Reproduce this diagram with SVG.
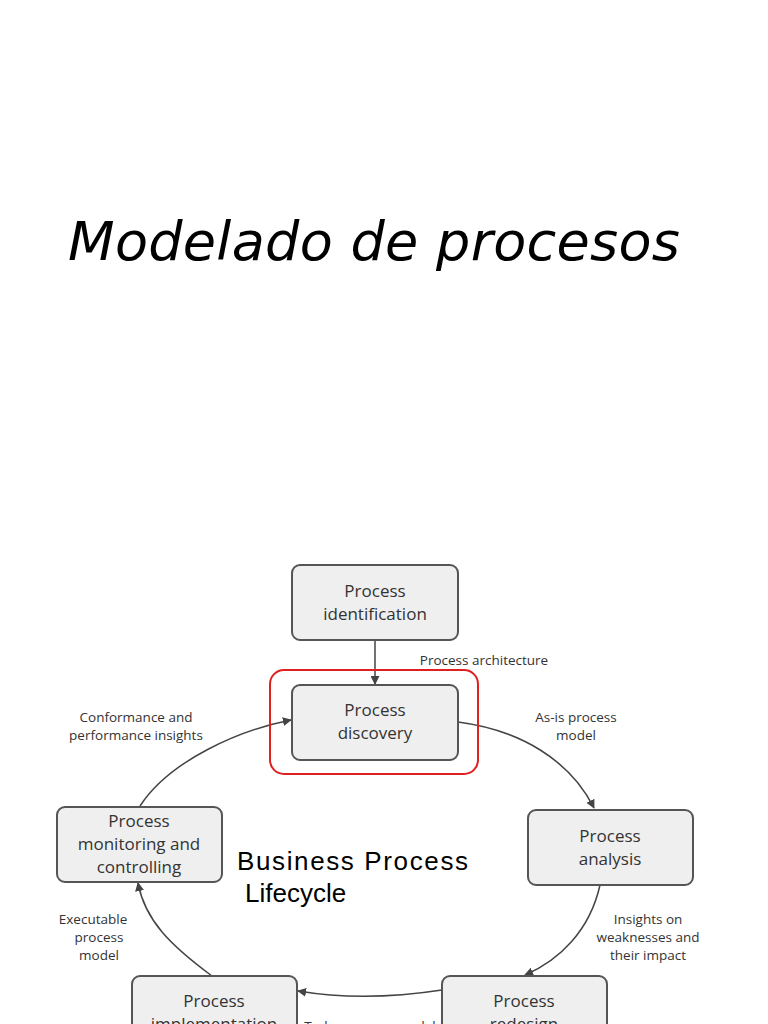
<svg xmlns="http://www.w3.org/2000/svg" width="768" height="1024" viewBox="0 0 768 1024">
<style>
.box{fill:#efefef;stroke:#555;stroke-width:2}
.t{font-family:"Open Sans",sans-serif;font-size:17px;fill:#333;text-anchor:middle}
.l{font-family:"Open Sans",sans-serif;font-size:13.5px;fill:#333;text-anchor:middle}
.c{fill:none;stroke:#444;stroke-width:1.5;marker-end:url(#a)}
</style>
<defs><marker id="a" viewBox="0 0 10 10" refX="9" refY="5" markerWidth="9" markerHeight="9" orient="auto" markerUnits="userSpaceOnUse"><path d="M0,0L10,5L0,10z" fill="#444"/></marker></defs>
<rect width="768" height="1024" fill="#fff"/>
<text x="68" y="260" font-family="DejaVu Sans,sans-serif" font-style="italic" font-size="54" textLength="612" fill="#000">Modelado de procesos</text>
<g id="connectors">
<path class="c" d="M375,640V684"/>
<path class="c" d="M458,722C520,730 570,760 594,808"/>
<path class="c" d="M600,885C590,930 560,960 525,975"/>
<path class="c" d="M442,990C390,998 340,998 298,991"/>
<path class="c" d="M212,976C170,945 145,920 138,883"/>
<path class="c" d="M140,806C170,760 240,730 291,720"/>
</g>
<rect x="270" y="670" width="208" height="104" rx="14" fill="none" stroke="#e02020" stroke-width="2"/>
<g id="identification"><rect class="box" x="292" y="565" width="166" height="75" rx="8"/><text class="t" x="375" y="597">Process</text><text class="t" x="375" y="620">identification</text></g>
<g id="discovery"><rect class="box" x="292" y="685" width="166" height="75" rx="8"/><text class="t" x="375" y="716">Process</text><text class="t" x="375" y="739">discovery</text></g>
<g id="analysis"><rect class="box" x="528" y="810" width="165" height="75" rx="8"/><text class="t" x="610" y="842">Process</text><text class="t" x="610" y="865">analysis</text></g>
<g id="monitoring"><rect class="box" x="57" y="807" width="165" height="75" rx="8"/><text class="t" x="139" y="827">Process</text><text class="t" x="139" y="850">monitoring and</text><text class="t" x="139" y="873">controlling</text></g>
<g id="implementation"><rect class="box" x="132" y="976" width="165" height="75" rx="8"/><text class="t" x="214" y="1007">Process</text><text class="t" x="214" y="1030">implementation</text></g>
<g id="redesign"><rect class="box" x="442" y="976" width="165" height="75" rx="8"/><text class="t" x="524" y="1007">Process</text><text class="t" x="524" y="1030">redesign</text></g>
<text class="l" x="484" y="665">Process architecture</text>
<text class="l" x="576" y="722">As-is process</text><text class="l" x="576" y="740">model</text>
<text class="l" x="136" y="722">Conformance and</text><text class="l" x="136" y="740">performance insights</text>
<text class="l" x="648" y="924">Insights on</text><text class="l" x="648" y="942">weaknesses and</text><text class="l" x="648" y="960">their impact</text>
<text class="l" x="93" y="924">Executable</text><text class="l" x="99" y="942">process</text><text class="l" x="99" y="960">model</text>
<text class="l" x="370" y="1031">To-be process model</text>
<text x="237" y="870" font-family="Liberation Sans,Arial,sans-serif" font-size="26" textLength="231" fill="#000">Business Process</text>
<text x="245" y="902" font-family="Liberation Sans,Arial,sans-serif" font-size="26" fill="#000">Lifecycle</text>
</svg>
